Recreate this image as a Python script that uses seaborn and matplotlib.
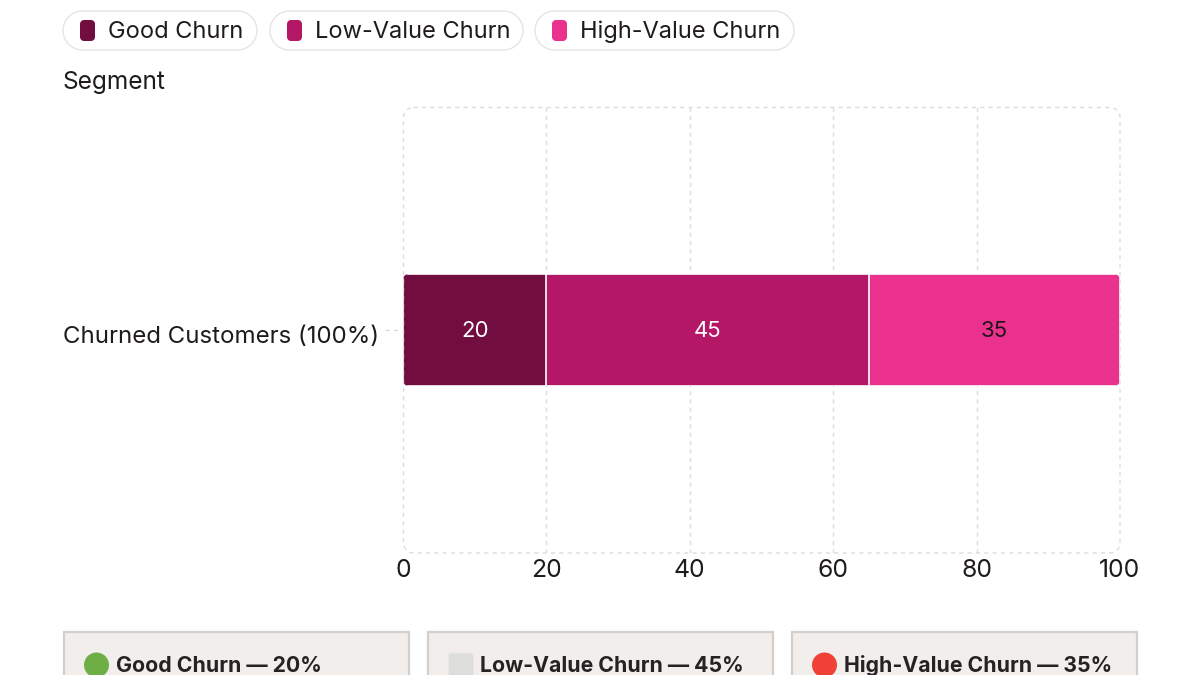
import numpy as np
import pandas as pd
import matplotlib
matplotlib.use("Agg")
import matplotlib.pyplot as plt
from matplotlib.patches import PathPatch, Circle
from matplotlib.path import Path
from matplotlib.transforms import ScaledTranslation
import seaborn as sns

# values
segment = ["Churned Customers (100%)"]
churn_types = ["Good Churn", "Low-Value Churn", "High-Value Churn"]
churn_values = [20, 45, 35]
x_ticks = [0, 20, 40, 60, 80, 100]
bar_colors = ["#720e3f", "#b51767", "#ea318e"]
label_colors = ["white", "white", "#1c1417"]
card_emoji_colors = ["#6fae45", "#dddddb", "#ef4136"]
card_labels = ["Good Churn — 20%", "Low-Value Churn — 45%", "High-Value Churn — 35%"]

sns.set_theme(style="white")
plt.rcParams["font.family"] = ["Inter", "DejaVu Sans"]
INK = "#1f1a1c"
W, H = 1200, 675


def round_box(x0, y0, x1, y1, r, **kw):
    # rounded rectangle with proper circular corners, in pixel coordinates
    k = r * 0.448
    verts = [(x0 + r, y0), (x1 - r, y0), (x1 - k, y0), (x1, y0 + k), (x1, y0 + r),
             (x1, y1 - r), (x1, y1 - k), (x1 - k, y1), (x1 - r, y1),
             (x0 + r, y1), (x0 + k, y1), (x0, y1 - k), (x0, y1 - r),
             (x0, y0 + r), (x0, y0 + k), (x0 + k, y0), (x0 + r, y0), (x0 + r, y0)]
    codes = [Path.MOVETO, Path.LINETO, Path.CURVE4, Path.CURVE4, Path.CURVE4,
             Path.LINETO, Path.CURVE4, Path.CURVE4, Path.CURVE4,
             Path.LINETO, Path.CURVE4, Path.CURVE4, Path.CURVE4,
             Path.LINETO, Path.CURVE4, Path.CURVE4, Path.CURVE4, Path.CLOSEPOLY]
    return PathPatch(Path(verts, codes), **kw)


fig = plt.figure(figsize=(12, 6.75), dpi=100, facecolor="white")
ax = fig.add_axes([403 / W, 1 - 553 / H, 717 / W, 446 / H])
# overlay in pixel coordinates for the html-like parts of the chart
over = fig.add_axes([0, 0, 1, 1], zorder=5)
over.set_xlim(0, W)
over.set_ylim(H, 0)
over.axis("off")
over.patch.set_alpha(0)

# stacked bar: draw the running totals, longest first
totals = np.cumsum(churn_values)
df = pd.DataFrame({"segment": segment * 3, "total": totals, "kind": churn_types})
for i in [2, 1, 0]:
    sns.barplot(data=df[df["kind"] == churn_types[i]], x="total", y="segment",
                color=bar_colors[i], saturation=1, width=0.25,
                edgecolor="white", linewidth=1.2, ax=ax, zorder=3)
ax.set_xlim(0, 100)
ax.set_ylim(0.5, -0.5)
ax.set_xticks(x_ticks)
ax.set_xlabel("")
ax.set_ylabel("")
ax.grid(axis="x", color="#dcdcdc", linestyle=(0, (3, 3)), linewidth=1)
ax.set_axisbelow(True)
gl = ax.get_xgridlines()
gl[0].set_visible(False)
gl[-1].set_visible(False)
for s in ax.spines.values():
    s.set_visible(False)
ax.tick_params(axis="x", length=0, pad=4, labelsize=17.8, labelcolor=INK)
ax.tick_params(axis="y", length=0, pad=17, labelsize=17.3, labelcolor=INK)
for lab in ax.get_yticklabels():
    # the label sits a little below its tick in the reference
    lab.set_transform(lab.get_transform() + ScaledTranslation(0, -4 / 100, fig.dpi_scale_trans))

# rounded ends of the bar
clip = round_box(403, 274, 1120, 386, 6, transform=over.transData, fc="none", ec="none")
over.add_patch(clip)
for p in ax.patches:
    p.set_clip_path(clip)

lefts = totals - np.array(churn_values)
for left, v, c in zip(lefts, churn_values, label_colors):
    ax.annotate(str(v), (left + v / 2, 0), xytext=(0, -1), textcoords="offset pixels",
                ha="center", va="center", color=c, fontsize=16, zorder=4)

# dashed plot frame and y tick
over.add_patch(round_box(403.5, 107.5, 1120, 553, 10, fc="none", ec="#dcdcdc", lw=1, ls=(0, (3, 3))))
over.plot([385, 401], [330, 330], color="#dcdcdc", lw=1, ls=(0, (3, 3)))
over.text(63, 82, "Segment", fontsize=17.6, color=INK, va="center", ha="left")

# legend pills
pill_x = [(63, 257), (270, 523), (535, 794)]
for (x0, x1), name, col in zip(pill_x, churn_types, bar_colors):
    over.add_patch(round_box(x0, 11, x1, 50, 19.5, fc="white", ec="#e6e4e4", lw=1))
    over.add_patch(round_box(x0 + 17, 20, x0 + 32, 41, 4, fc=col, ec="none"))
    over.text(x0 + 45, 31.5, name, fontsize=17, color=INK, va="center", ha="left")

# summary cards, cut off by the bottom edge
card_x = [63.5, 427.5, 791.5]
for x0, col, txt in zip(card_x, card_emoji_colors, card_labels):
    over.add_patch(plt.Rectangle((x0, 632), 345, 80, fc="#f1eeec", ec="#d3cfcc", lw=1.6))
    if col == "#dddddb":
        over.add_patch(round_box(x0 + 21, 653, x0 + 46, 678, 3, fc=col, ec="#e8e8e6", lw=0.8))
    else:
        over.add_patch(Circle((x0 + 33, 665), 12.5, fc=col, ec="none"))
    over.text(x0 + 53, 666, txt, fontsize=15.3, fontweight="bold", color="#262122", va="center", ha="left")

fig.savefig("out.png", dpi=100)
